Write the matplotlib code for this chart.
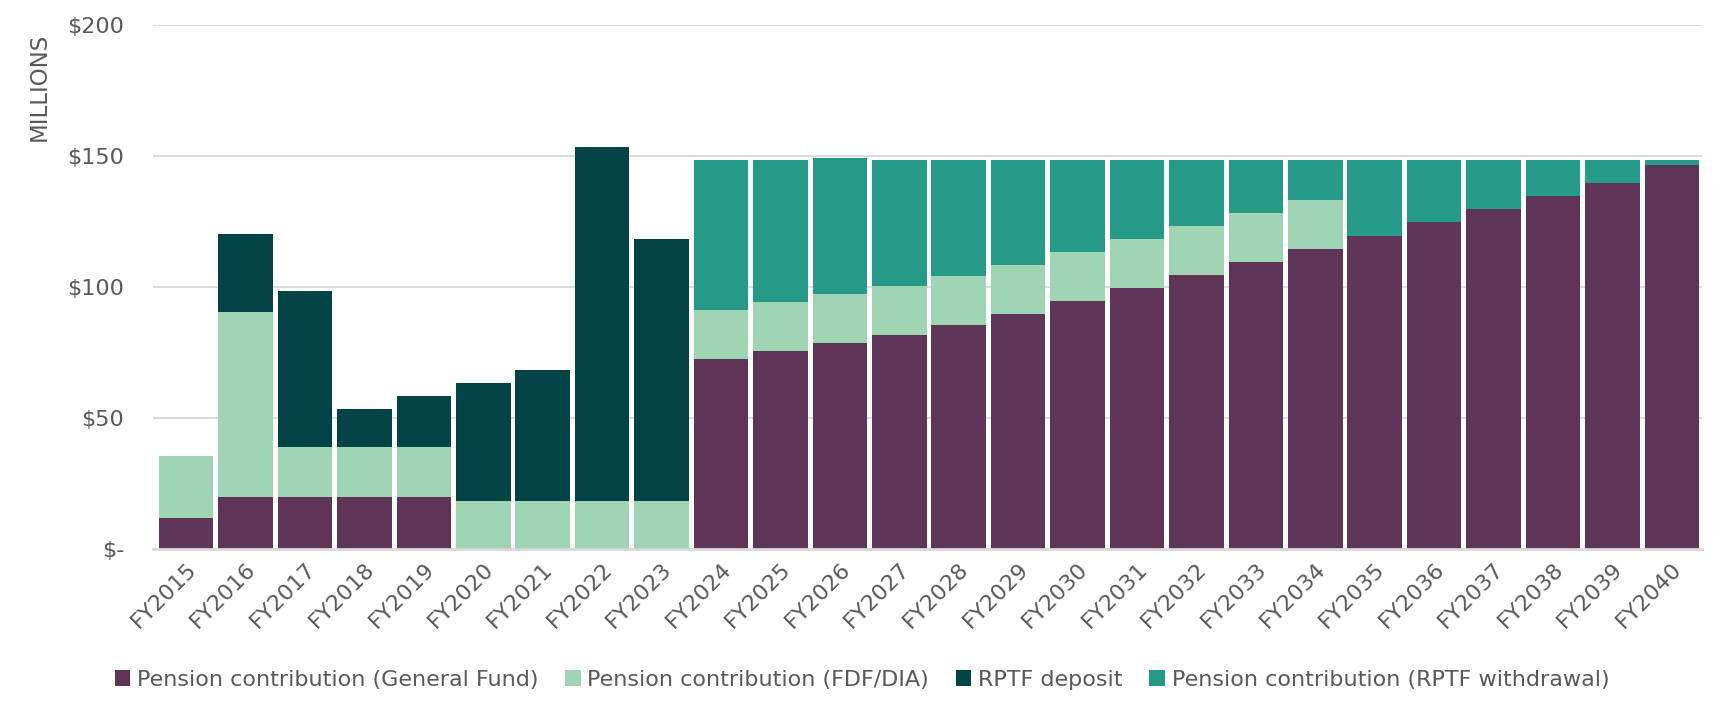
import matplotlib.pyplot as plt
import numpy as np

years = [f"FY{y}" for y in range(2015, 2041)]

general_fund = [12, 20, 20, 20, 20, 0, 0, 0, 0,
                72.6, 75.6, 78.7, 81.8, 85.6, 89.8, 94.8, 99.7, 104.7, 109.7, 114.6,
                119.6, 124.9, 129.9, 134.9, 139.8, 146.7]
fdf_dia = [23.5, 70.5, 19, 19, 19, 18.3, 18.3, 18.3, 18.3,
           18.7, 18.8, 18.8, 18.7, 18.7, 18.7, 18.7, 18.7, 18.7, 18.7, 18.7,
           0, 0, 0, 0, 0, 0]
rptf_deposit = [0, 29.8, 59.5, 14.5, 19.4, 45.1, 50.0, 135.2, 100.1,
                0, 0, 0, 0, 0, 0, 0, 0, 0, 0, 0,
                0, 0, 0, 0, 0, 0]
rptf_withdrawal = [0, 0, 0, 0, 0, 0, 0, 0, 0,
                   57.3, 54.2, 51.9, 48.1, 44.3, 40.1, 35.1, 30.2, 25.2, 20.2, 15.3,
                   29.0, 23.7, 18.7, 13.7, 8.8, 1.9]

c_gf = "#5E3559"
c_fdf = "#A0D5B3"
c_dep = "#024446"
c_wd = "#259A89"
grey_txt = "#595959"

plt.rcParams["font.family"] = ["DejaVu Sans"]

fig = plt.figure(figsize=(17.24, 7.14), dpi=100)
ax = fig.add_axes([0.089, 0.231, 0.898, 0.734])

x = np.arange(len(years))
w = 0.92
gf = np.array(general_fund)
fd = np.array(fdf_dia)
dp = np.array(rptf_deposit)
wd = np.array(rptf_withdrawal)

ax.bar(x, gf, w, color=c_gf, label="Pension contribution (General Fund)", zorder=3)
ax.bar(x, fd, w, bottom=gf, color=c_fdf, label="Pension contribution (FDF/DIA)", zorder=3)
ax.bar(x, dp, w, bottom=gf + fd, color=c_dep, label="RPTF deposit", zorder=3)
ax.bar(x, wd, w, bottom=gf + fd + dp, color=c_wd, label="Pension contribution (RPTF withdrawal)", zorder=3)

ax.set_ylim(0, 200)
ax.set_xlim(-0.55, len(years) - 0.5)
ax.set_yticks([0, 50, 100, 150, 200])
ax.set_yticklabels(["$-", "$50", "$100", "$150", "$200"])
ax.set_xticks(x)
ax.set_xticklabels(years, rotation=45, ha="right", rotation_mode="anchor")

ax.grid(axis="y", color="#D9D9D9", linewidth=1.3, zorder=0)
for s in ["top", "right", "left"]:
    ax.spines[s].set_visible(False)
ax.spines["bottom"].set_color("#D9D9D9")
ax.spines["bottom"].set_linewidth(2)
ax.spines["bottom"].set_zorder(4)
ax.tick_params(axis="both", length=0, labelsize=16, colors=grey_txt)
ax.tick_params(axis="x", pad=7)
ax.tick_params(axis="y", pad=21)

ax.set_ylabel("MILLIONS", fontsize=16.5, color=grey_txt, loc="top")
ax.yaxis.set_label_coords(-0.0665, 0.985)

fig.legend(loc="center", bbox_to_anchor=(0.5, 0.048), ncol=4, frameon=False,
           fontsize=16, labelcolor=grey_txt, handlelength=0.7, handleheight=0.7,
           handletextpad=0.3, columnspacing=1.2)

fig.savefig("out.png", dpi=100)
